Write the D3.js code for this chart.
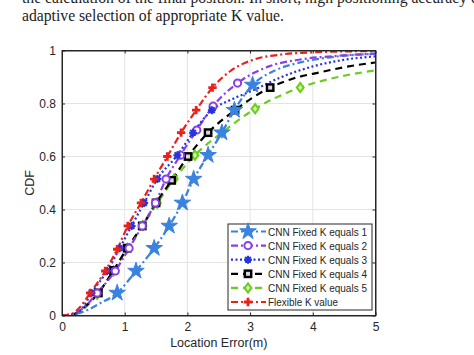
<!DOCTYPE html>
<html><head><meta charset="utf-8">
<script src="https://cdn.jsdelivr.net/npm/d3@7"></script>
<style>body{margin:0;background:#fff}svg{display:block}</style>
</head><body>
<svg id="c" width="474" height="355"></svg>
<script>
// ---- data ----
const seriesNames = ["CNN Fixed K equals 1","CNN Fixed K equals 2","CNN Fixed K equals 3","CNN Fixed K equals 4","CNN Fixed K equals 5","Flexible K value"];
const xTicks = [0,1,2,3,4,5];
const yTicks = [0,0.2,0.4,0.6,0.8,1];
const yTickLabels = ["0","0.2","0.4","0.6","0.8","1"];

const k1X = [0,0.2,0.4,0.6,0.88,1.18,1.47,1.71,1.92,2.1,2.33,2.55,2.75,3.04,3.4,3.8,4.3,5];
const k1Y = [0,0.005,0.02,0.045,0.085,0.168,0.254,0.338,0.425,0.515,0.605,0.69,0.775,0.87,0.925,0.955,0.975,0.988];
const k1Marks = [4,5,6,7,8,9,10,11,12,13];

const k2X = [0,0.2,0.35,0.56,0.85,1.07,1.28,1.49,1.66,1.89,2.15,2.41,2.8,3.3,3.8,4.4,5];
const k2Y = [0,0.008,0.03,0.085,0.168,0.254,0.338,0.425,0.515,0.605,0.70,0.79,0.877,0.94,0.966,0.98,0.988];
const k2Marks = [3,4,5,6,7,8,9,10,11,12];

const k3X = [0,0.2,0.3,0.47,0.72,0.92,1.11,1.31,1.52,1.84,2.09,2.39,2.7,3.05,3.5,4.0,4.5,5];
const k3Y = [0,0.006,0.02,0.085,0.168,0.254,0.338,0.425,0.515,0.605,0.69,0.775,0.815,0.85,0.9,0.94,0.965,0.978];
const k3Marks = [3,4,5,6,7,8,9,10,11];

const k4X = [0,0.2,0.35,0.58,0.82,1.04,1.28,1.5,1.75,2.01,2.33,2.76,3.32,3.7,4.12,4.5,5];
const k4Y = [0,0.006,0.03,0.085,0.17,0.254,0.338,0.425,0.51,0.6,0.69,0.775,0.86,0.895,0.918,0.937,0.955];
const k4Marks = [3,4,5,6,7,8,9,10,11,12];

const k5X = [0,0.2,0.35,0.56,0.82,1.04,1.29,1.52,1.79,2.12,2.55,3.08,3.8,4.4,5];
const k5Y = [0,0.005,0.025,0.08,0.168,0.254,0.34,0.424,0.515,0.605,0.69,0.78,0.86,0.9,0.925];
const k5Marks = [3,4,5,6,7,8,9,10,11,12];

const flexX = [0,0.1,0.2,0.3,0.45,0.69,0.88,1.05,1.26,1.47,1.68,1.9,2.14,2.4,2.7,3.05,3.5,4.0,5];
const flexY = [0,0.003,0.012,0.035,0.085,0.168,0.25,0.338,0.425,0.515,0.6,0.69,0.775,0.86,0.925,0.965,0.985,0.993,0.998];
const flexMarks = [4,5,6,7,8,9,10,11,12,13];

const colors = ["#3a82e0","#8a3fe6","#2534e0","#000000","#6ccc1e","#e8211b"];
const dashes = ["7,3,2,3","7,3,2,3","2,2.5","7,5","7,5","7,3,2,3"];
const markerTypes = ["star","circle","asterisk","square","diamond","plus"];

const allX = [k1X,k2X,k3X,k4X,k5X,flexX];
const allY = [k1Y,k2Y,k3Y,k4Y,k5Y,flexY];
const allMarks = [k1Marks,k2Marks,k3Marks,k4Marks,k5Marks,flexMarks];

// ---- layout ----
const svg = d3.select("#c");
const L=62, R=375.5, T=50.5, B=315.5;
const x = d3.scaleLinear().domain([0,5]).range([L,R]);
const y = d3.scaleLinear().domain([0,1]).range([B,T]);

// top paragraph text
svg.append("text").attr("x",22).attr("y",3).attr("font-family","Liberation Serif, DejaVu Serif, serif")
  .attr("font-size",17).attr("fill","#222").attr("textLength",456).attr("lengthAdjust","spacingAndGlyphs")
  .text("the calculation of the final position. In short, high positioning accuracy c");
svg.append("text").attr("x",22).attr("y",20.5).attr("font-family","Liberation Serif, DejaVu Serif, serif")
  .attr("font-size",17).attr("fill","#222").attr("textLength",262).attr("lengthAdjust","spacingAndGlyphs")
  .text("adaptive selection of appropriate K value.");

// grid
const g = svg.append("g");
g.selectAll(".gx").data(xTicks.slice(1,-1)).enter().append("line")
  .attr("x1",d=>x(d)).attr("x2",d=>x(d)).attr("y1",T).attr("y2",B).attr("stroke","#e4e4e4").attr("stroke-width",1);
g.selectAll(".gy").data(yTicks.slice(1,-1)).enter().append("line")
  .attr("y1",d=>y(d)).attr("y2",d=>y(d)).attr("x1",L).attr("x2",R).attr("stroke","#e4e4e4").attr("stroke-width",1);

// curves
const line = d3.line().curve(d3.curveMonotoneX);
svg.append("clipPath").attr("id","pc").append("rect").attr("x",L).attr("y",T-3).attr("width",R-L).attr("height",B-T+3);
const plot = svg.append("g").attr("clip-path","url(#pc)");

function drawMarker(sel, type, color){
  if(type==="star"){
    sel.append("path").attr("d",d3.symbol().type(d3.symbolStar).size(85)())
      .attr("fill",color).attr("stroke",color).attr("stroke-width",1);
  } else if(type==="circle"){
    sel.append("circle").attr("r",3.6).attr("fill","white").attr("stroke",color).attr("stroke-width",2);
  } else if(type==="asterisk"){
    const r=4;
    sel.append("path").attr("d",`M${-r},0L${r},0M0,${-r}L0,${r}M${-r*0.7},${-r*0.7}L${r*0.7},${r*0.7}M${-r*0.7},${r*0.7}L${r*0.7},${-r*0.7}`)
      .attr("fill","none").attr("stroke",color).attr("stroke-width",2);
  } else if(type==="square"){
    sel.append("rect").attr("x",-3.2).attr("y",-3.2).attr("width",6.4).attr("height",6.4)
      .attr("fill","#d8d8d8").attr("stroke",color).attr("stroke-width",2.4);
  } else if(type==="diamond"){
    const r=4.6;
    sel.append("path").attr("d",`M0,${-r}L${r*0.75},0L0,${r}L${-r*0.75},0Z`).attr("fill","#cfeea8").attr("stroke",color).attr("stroke-width",2);
  } else if(type==="plus"){
    const r=4.2;
    sel.append("path").attr("d",`M${-r},0L${r},0M0,${-r}L0,${r}`).attr("fill","none").attr("stroke",color).attr("stroke-width",2.8);
  }
}

const order=[4,3,0,1,2,5];
order.forEach(i=>{
  const pts = allX[i].map((v,j)=>[x(v),y(allY[i][j])]);
  plot.append("path").attr("d",line(pts)).attr("fill","none").attr("stroke",colors[i])
    .attr("stroke-width",2.2).attr("stroke-dasharray",dashes[i]);
});
order.forEach(i=>{
  allMarks[i].forEach(j=>{
    const mg = plot.append("g").attr("transform",`translate(${x(allX[i][j])},${y(allY[i][j])})`);
    drawMarker(mg, markerTypes[i], colors[i]);
  });
});

// axes box
const axc="#262626";
svg.append("rect").attr("x",L).attr("y",T).attr("width",R-L).attr("height",B-T).attr("fill","none").attr("stroke",axc).attr("stroke-width",1);
const xb = svg.append("g").attr("transform",`translate(0,${B})`).call(d3.axisBottom(x).tickValues(xTicks).tickSizeInner(-3).tickSizeOuter(0).tickPadding(7).tickFormat(d3.format("d")));
const xt = svg.append("g").attr("transform",`translate(0,${T})`).call(d3.axisTop(x).tickValues(xTicks).tickSizeInner(-3).tickSizeOuter(0).tickFormat(""));
const yl = svg.append("g").attr("transform",`translate(${L},0)`).call(d3.axisLeft(y).tickValues(yTicks).tickSizeInner(-3).tickSizeOuter(0).tickPadding(6).tickFormat((d,i)=>yTickLabels[i]));
const yr = svg.append("g").attr("transform",`translate(${R},0)`).call(d3.axisRight(y).tickValues(yTicks).tickSizeInner(-3).tickSizeOuter(0).tickFormat(""));
[xb,xt,yl,yr].forEach(a=>{
  a.select(".domain").attr("stroke",axc);
  a.selectAll(".tick line").attr("stroke",axc);
  a.selectAll("text").attr("font-family","Liberation Sans, Arial, sans-serif").attr("font-size",12).attr("fill","#262626");
});

// labels
svg.append("text").attr("x",(L+R)/2).attr("y",347).attr("text-anchor","middle")
  .attr("font-family","Liberation Sans, Arial, sans-serif").attr("font-size",12.5).attr("fill","#262626").text("Location Error(m)");
svg.append("text").attr("transform",`translate(34,${(T+B)/2}) rotate(-90)`).attr("text-anchor","middle")
  .attr("font-family","Liberation Sans, Arial, sans-serif").attr("font-size",12.5).attr("fill","#262626").text("CDF");

// legend
const lg = svg.append("g");
lg.append("rect").attr("x",228).attr("y",224).attr("width",144).attr("height",86).attr("fill","white").attr("stroke",axc).attr("stroke-width",1);
seriesNames.forEach((name,i)=>{
  const yy = 231.5+14.1*i;
  lg.append("line").attr("x1",231).attr("x2",266).attr("y1",yy).attr("y2",yy).attr("stroke",colors[i]).attr("stroke-width",2.2).attr("stroke-dasharray",dashes[i]);
  const mg = lg.append("g").attr("transform",`translate(248,${yy})`);
  drawMarker(mg, markerTypes[i], colors[i]);
  lg.append("text").attr("x",268).attr("y",yy+4).attr("font-family","Liberation Sans, Arial, sans-serif")
    .attr("font-size",11).attr("fill","#262626")
    .attr("textLength", i<5 ? 99 : 70).attr("lengthAdjust","spacingAndGlyphs").text(name);
});
</script>
</body></html>
